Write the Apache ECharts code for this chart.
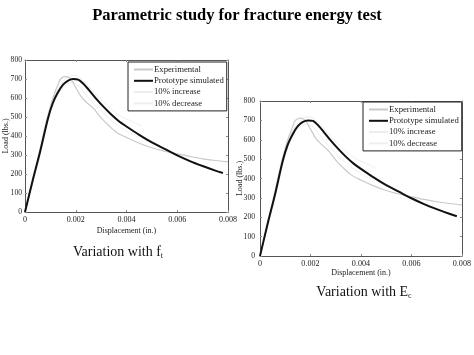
<!DOCTYPE html>
<html>
<head>
<meta charset="utf-8">
<script src="https://cdn.jsdelivr.net/npm/echarts@6/dist/echarts.min.js"></script>
<style>
html,body{margin:0;padding:0;background:#fff;}
#c{width:474px;height:355px;}
</style>
</head>
<body>
<div id="c"></div>
<script>
// Data (displacement in inches, load in lbs.)
const expX   = [0, 0.0003, 0.0006, 0.0009, 0.0011, 0.0013, 0.0014, 0.0016, 0.0018, 0.002, 0.0022, 0.0024, 0.0027, 0.003, 0.0033, 0.0036, 0.004, 0.0045, 0.005, 0.0055, 0.006, 0.0065, 0.007, 0.0075, 0.008];
const expY   = [0, 160, 330, 505, 600, 670, 700, 712, 700, 655, 610, 580, 545, 495, 455, 420, 392, 362, 338, 320, 306, 292, 280, 271, 264];
const protoX = [0, 0.0003, 0.0006, 0.0009, 0.0011, 0.0013, 0.0015, 0.0017, 0.0019, 0.0021, 0.0023, 0.0025, 0.0028, 0.0031, 0.0034, 0.0037, 0.004, 0.0045, 0.005, 0.0055, 0.006, 0.0065, 0.007, 0.0075, 0.0078];
const protoY = [0, 165, 320, 490, 575, 630, 670, 692, 700, 697, 675, 645, 597, 553, 513, 478, 450, 406, 366, 332, 298, 268, 242, 218, 205];
const incX   = [0, 0.0005, 0.001, 0.0014, 0.0017, 0.002, 0.0023, 0.0027, 0.0032, 0.0037, 0.0042, 0.0046];
const incY   = [0, 290, 560, 670, 712, 718, 692, 632, 566, 510, 478, 452];
const decX   = [0, 0.0005, 0.001, 0.0014, 0.0018, 0.0021, 0.0025, 0.003, 0.0035, 0.004, 0.0045];
const decY   = [0, 250, 520, 640, 680, 665, 600, 530, 470, 425, 392];
const xTicks = [0, 0.002, 0.004, 0.006, 0.008];
const yMin = 0, yMax = 800, yStep = 100;
const seriesNames = ['Experimental', 'Prototype simulated', '10% increase', '10% decrease'];

const zip = (xs, ys) => xs.map((x, i) => [x, ys[i]]);
const F = 'Liberation Serif, Times New Roman, serif';

const grids = [
  {left: 25, top: 60, width: 203, height: 152},
  {left: 260, top: 101, width: 202, height: 155}
];
const yNameGaps = [15.5, 16];
const yLabelMargins = [3, 5];
const xNameGaps = [15, 13];

const xAxes = [], yAxes = [], series = [], legends = [];
grids.forEach((g, gi) => {
  xAxes.push({
    gridIndex: gi, type: 'value', min: xTicks[0], max: xTicks[xTicks.length - 1], interval: xTicks[1] - xTicks[0],
    name: 'Displacement (in.)', nameLocation: 'middle', nameGap: xNameGaps[gi], nameMoveOverlap: false,
    nameTextStyle: {fontFamily: F, fontSize: 8, color: '#222'},
    axisLine: {show: true, onZero: false, lineStyle: {color: '#555', width: 1}},
    axisTick: {show: true, inside: true, length: 2, lineStyle: {color: '#888'}},
    axisLabel: {fontFamily: F, fontSize: 8.1, color: '#222', margin: 3.5},
    splitLine: {show: false}
  });
  xAxes.push({
    gridIndex: gi, type: 'value', position: 'top', min: xTicks[0], max: xTicks[xTicks.length - 1], interval: xTicks[1] - xTicks[0],
    axisLine: {show: true, onZero: false, lineStyle: {color: '#555', width: 1}},
    axisTick: {show: true, inside: true, length: 2, lineStyle: {color: '#888'}},
    axisLabel: {show: false}, splitLine: {show: false}
  });
  yAxes.push({
    gridIndex: gi, type: 'value', min: yMin, max: yMax, interval: yStep,
    name: 'Load (lbs.)', nameLocation: 'middle', nameGap: yNameGaps[gi], nameMoveOverlap: false,
    nameTextStyle: {fontFamily: F, fontSize: 8, color: '#222'},
    axisLine: {show: true, onZero: false, lineStyle: {color: '#555', width: 1}},
    axisTick: {show: true, inside: true, length: 2, lineStyle: {color: '#888'}},
    axisLabel: {fontFamily: F, fontSize: 7.6, color: '#222', margin: yLabelMargins[gi]},
    splitLine: {show: false}
  });
  yAxes.push({
    gridIndex: gi, type: 'value', position: 'right', min: yMin, max: yMax, interval: yStep,
    axisLine: {show: true, onZero: false, lineStyle: {color: '#555', width: 1}},
    axisTick: {show: true, inside: true, length: 2, lineStyle: {color: '#888'}},
    axisLabel: {show: false}, splitLine: {show: false}
  });
  const xi = gi * 2, yi = gi * 2;
  const common = {type: 'line', xAxisIndex: xi, yAxisIndex: yi, symbol: 'none', smooth: 0.3, animation: false};
  series.push(Object.assign({}, common, {name: seriesNames[0], data: zip(expX, expY), lineStyle: {color: '#c9c9c9', width: 1.2}, itemStyle: {color: '#c9c9c9'}, z: 3}));
  series.push(Object.assign({}, common, {name: seriesNames[2], data: zip(incX, incY), lineStyle: {color: '#ededed', width: 1}, itemStyle: {color: '#e2e2e2'}, z: 1}));
  series.push(Object.assign({}, common, {name: seriesNames[3], data: zip(decX, decY), lineStyle: {color: '#efefef', width: 1}, itemStyle: {color: '#e4e4e4'}, z: 1}));
  series.push(Object.assign({}, common, {name: seriesNames[1], data: zip(protoX, protoY), lineStyle: {color: '#111', width: 2}, itemStyle: {color: '#111'}, z: 5}));
});

const legendBase = {
  orient: 'vertical', data: seriesNames, itemWidth: 19, itemHeight: 11, itemGap: 2.3,
  padding: [3, 3, 3, 5], borderColor: '#222', borderWidth: 1, backgroundColor: '#fff',
  itemStyle: {opacity: 0},
  textStyle: {fontFamily: F, fontSize: 8.7, color: '#222', padding: [0, 0, 0, -4]},
  selectedMode: false
};
legends.push(Object.assign({}, legendBase, {left: 128, top: 62}));
legends.push(Object.assign({}, legendBase, {left: 363, top: 102}));

const chart = echarts.init(document.getElementById('c'), null, {renderer: 'canvas'});
chart.setOption({
  animation: false,
  backgroundColor: '#fff',
  title: [
    {text: 'Parametric study for fracture energy test', left: 'center', top: 2,
     textStyle: {fontFamily: F, fontSize: 16.5, fontWeight: 'bold', color: '#000'}},
    {text: 'Variation with f{s|t}', left: 113, top: 240, textAlign: 'center',
     textStyle: {fontFamily: F, fontSize: 14, fontWeight: 'normal', color: '#111',
       rich: {s: {fontFamily: F, fontSize: 8, color: '#111', verticalAlign: 'bottom', padding: [7, 0, 0, 0]}}}},
    {text: 'Variation with E{s|c}', left: 359, top: 280, textAlign: 'center',
     textStyle: {fontFamily: F, fontSize: 14, fontWeight: 'normal', color: '#111',
       rich: {s: {fontFamily: F, fontSize: 8, color: '#111', verticalAlign: 'bottom', padding: [7, 0, 0, 0]}}}}
  ],
  grid: grids,
  xAxis: xAxes,
  yAxis: yAxes,
  legend: legends,
  series: series
});
</script>
</body>
</html>
